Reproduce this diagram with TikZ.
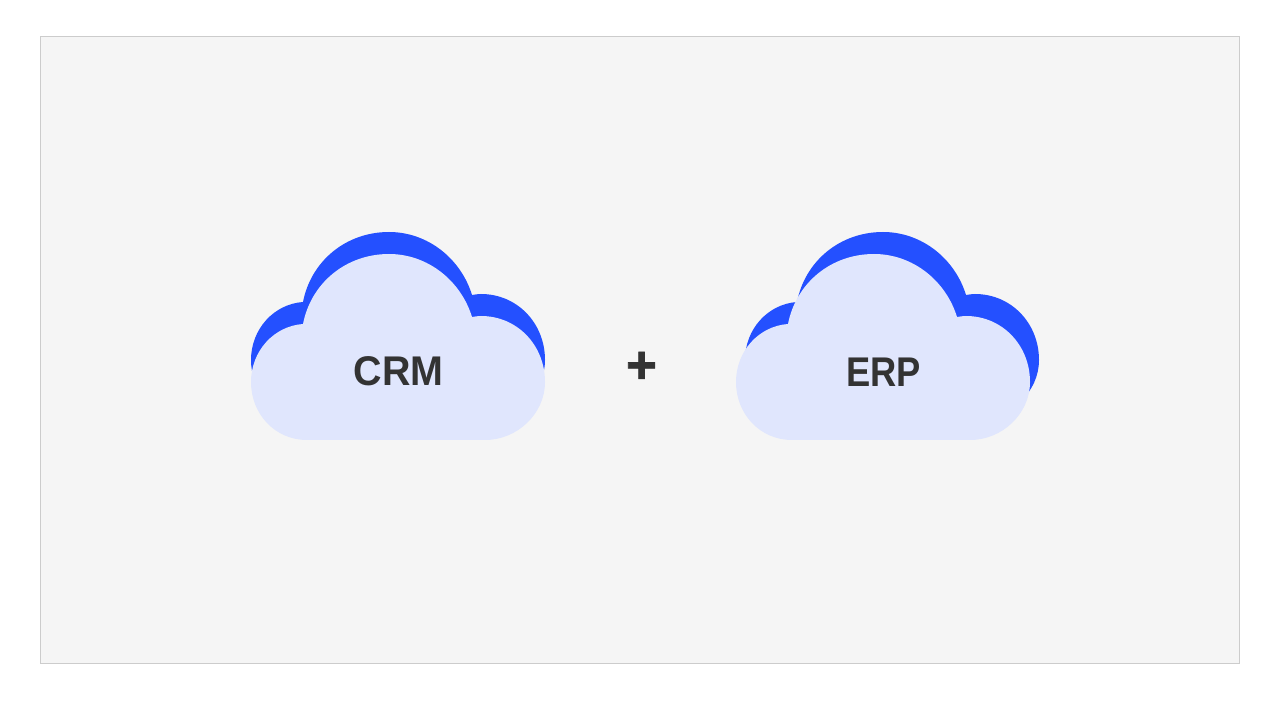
\documentclass[tikz,border=0pt]{standalone}
\usepackage{fontspec}
\setmainfont{Liberation Sans}
\definecolor{cloudblue}{HTML}{2450FF}
\definecolor{cloudlight}{HTML}{E0E6FD}
\definecolor{panelbg}{HTML}{F5F5F5}
\definecolor{panelline}{HTML}{CCCCCC}
\definecolor{labeltext}{HTML}{333333}
\tikzset{
  cloudback/.style={fill=cloudblue,draw=none},
  cloudfront/.style={fill=cloudlight,draw=none},
  cloudlabel/.style={text=labeltext,font=\fontsize{41.5}{41.5}\selectfont\bfseries,inner sep=0pt,anchor=base},
  pluslabel/.style={text=labeltext,font=\fontsize{53}{53}\selectfont\bfseries\addfontfeature{FakeBold=1.2},inner sep=0pt,anchor=base},
  panel/.style={fill=panelbg,draw=panelline,line width=1pt},
}
\newcommand{\cloudpath}{
  (307,440) -- (485,440)
  .. controls (517,440) and (545,414) .. (545,382)
  .. controls (545,345) and (517,316) .. (481,316)
  .. controls (478,316) and (475,316.5) .. (472,317)
  .. controls (461,281) and (428,254) .. (389,254)
  .. controls (346,254) and (311,283) .. (303,324)
  .. controls (274,326) and (251,351) .. (251,382)
  .. controls (251,414) and (275,440) .. (307,440) -- cycle
}
\begin{document}
\begin{tikzpicture}[x=1pt,y=-1pt]
\useasboundingbox (0,0) rectangle (1280,708);
\fill[white] (0,0) rectangle (1280,708);
% soft shadow
\foreach \s in {36,32,...,4}{
  \fill[black,opacity=0.0012,rounded corners=\s pt] (40.5-\s,41.5-\s) rectangle (1239.5+\s,668.5+\s);
}
\path[panel] (40.5,36.5) rectangle (1239.5,663.5);
% CRM cloud
\fill[cloudback,shift={(0,-22)}] \cloudpath;
\fill[cloudfront] \cloudpath;
\node[cloudlabel,xscale=0.95] (crm) at (398.5,386) {CRM};
% ERP cloud
\fill[cloudback,shift={(494,-22)}] \cloudpath;
\fill[cloudfront,shift={(485,0)}] \cloudpath;
\node[cloudlabel,xscale=0.875] (erp) at (883.5,386.5) {ERP};
% plus
\node[pluslabel] (plus) at (641.5,383) {+};
\end{tikzpicture}
\end{document}
